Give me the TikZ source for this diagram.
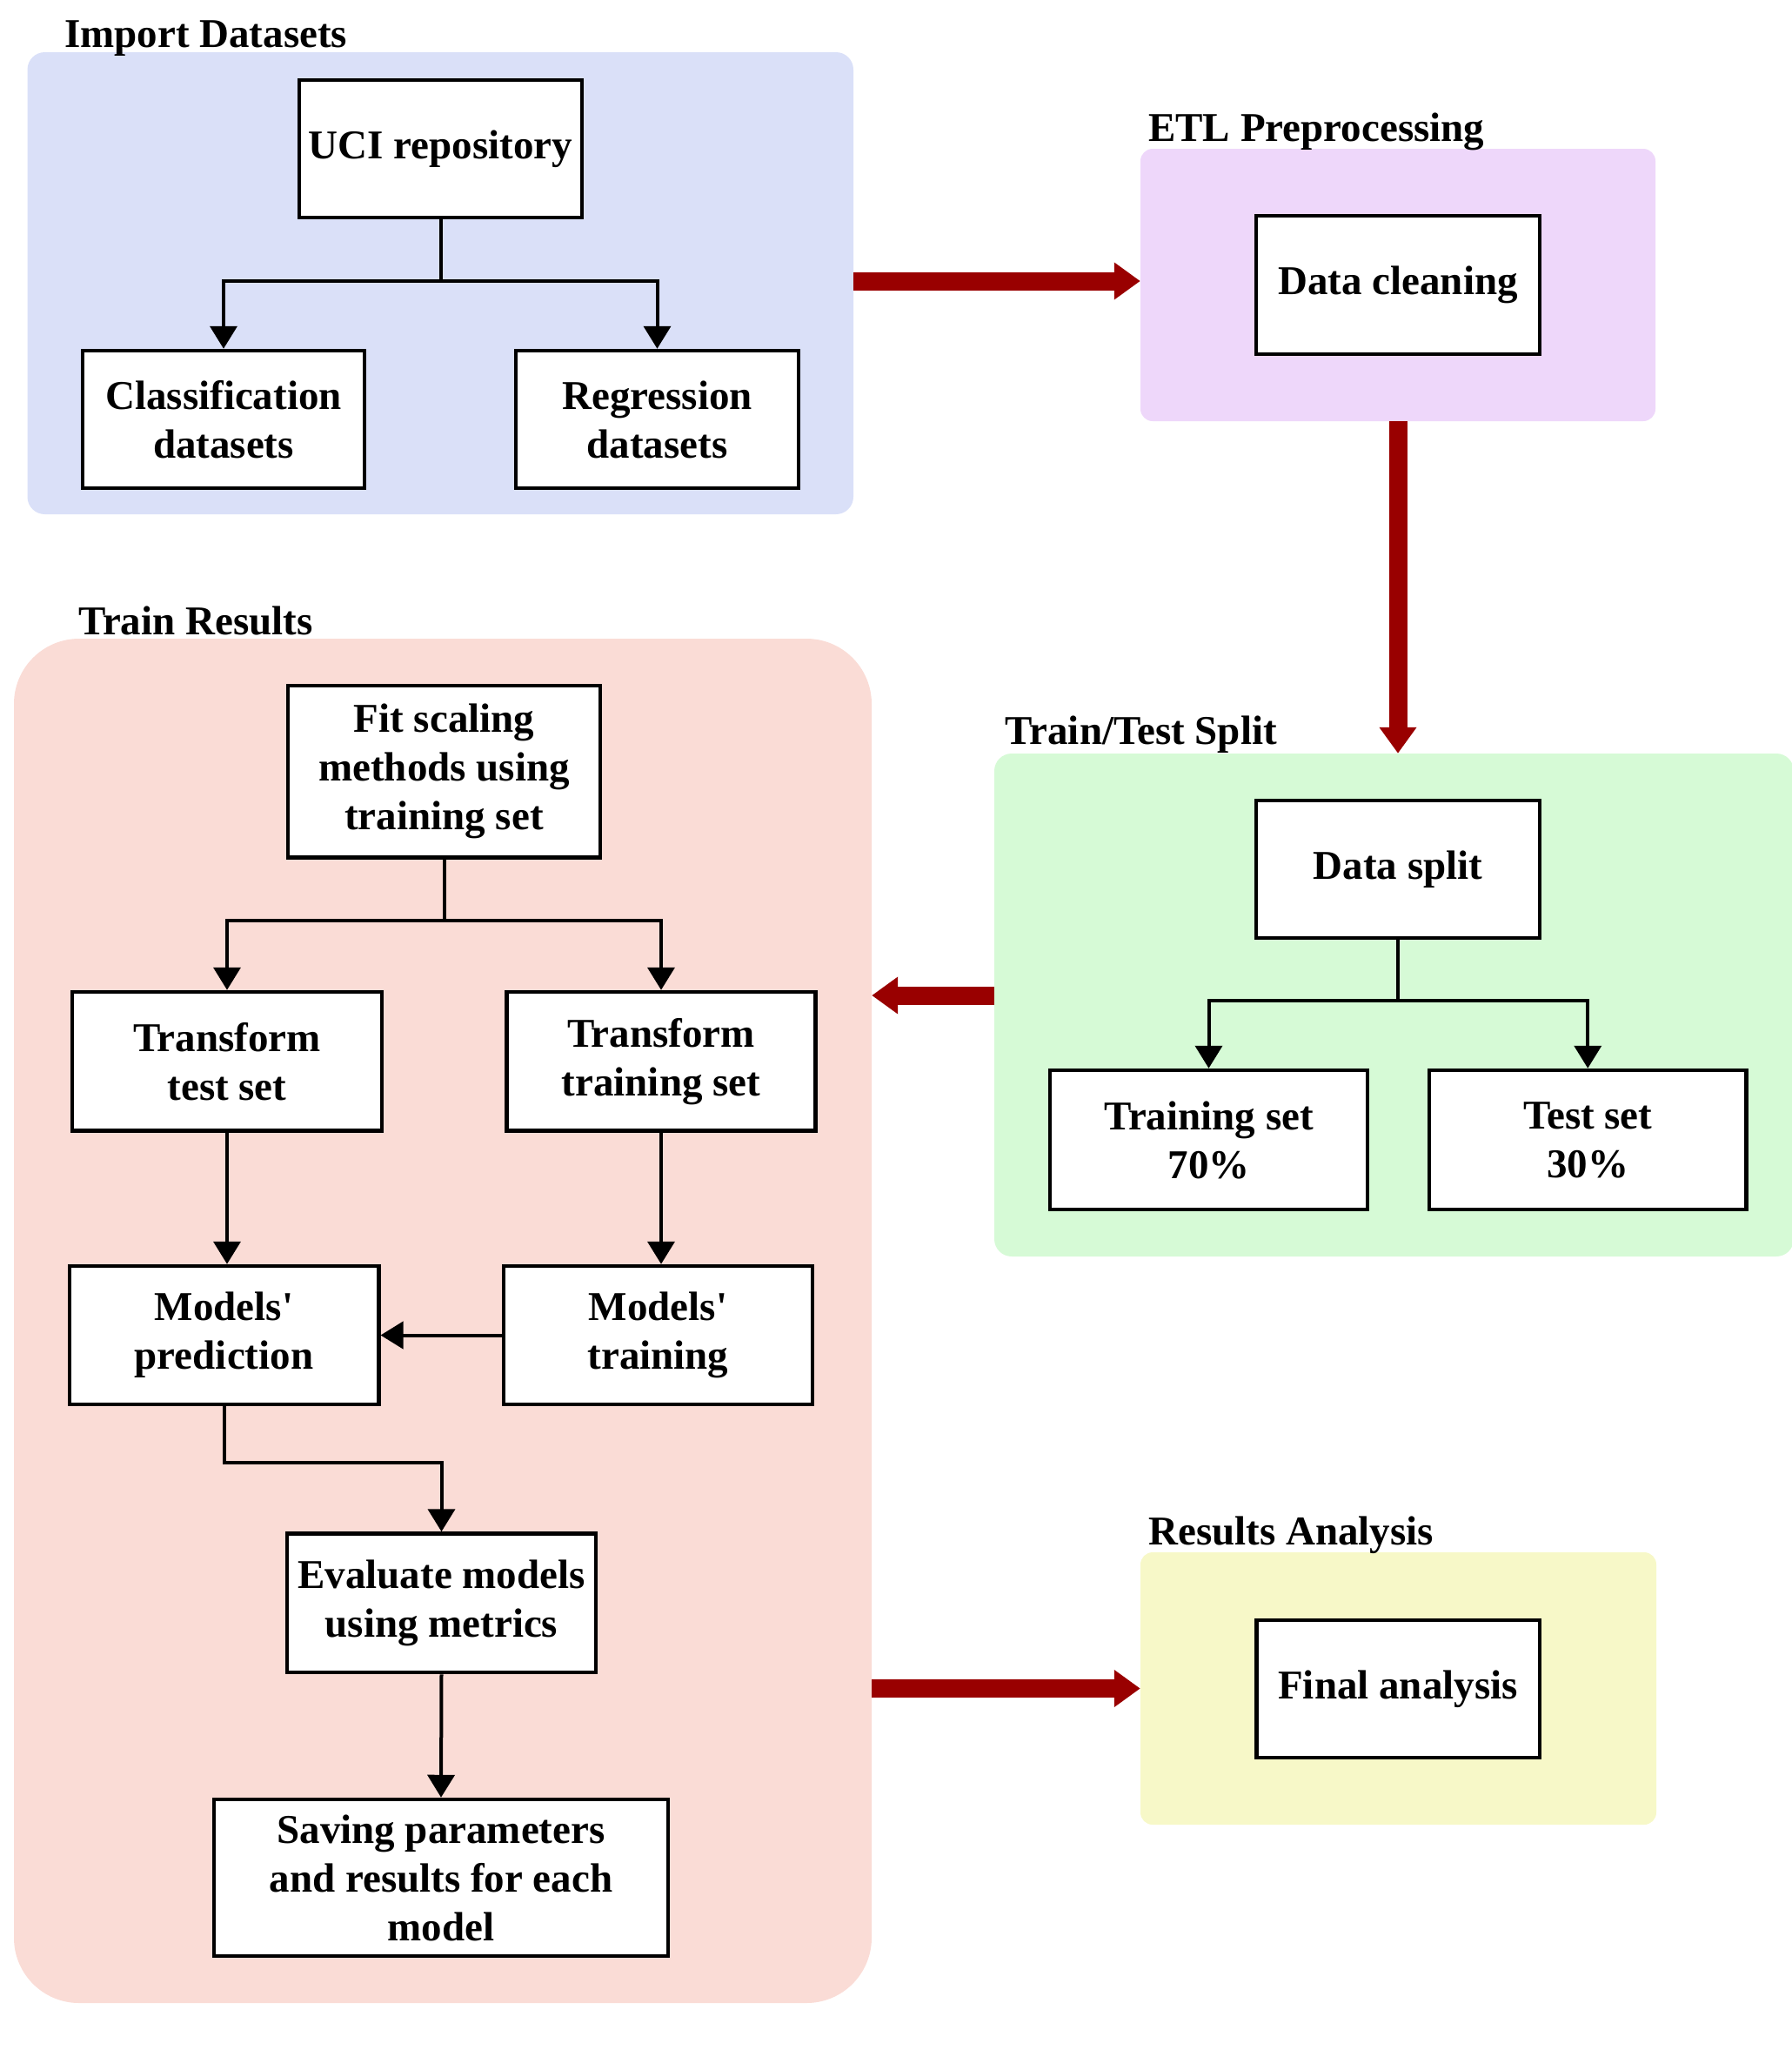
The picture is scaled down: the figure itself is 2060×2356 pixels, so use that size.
\documentclass[tikz,border=0pt]{standalone}
\usepackage{fontspec}
\setmainfont{Liberation Serif}[Ligatures=TeXOff]
\usetikzlibrary{arrows.meta}
\definecolor{cblue}{RGB}{218,224,248}
\definecolor{cpurple}{RGB}{238,215,250}
\definecolor{cgreen}{RGB}{214,250,214}
\definecolor{cpink}{RGB}{250,220,214}
\definecolor{cyellow}{RGB}{247,248,200}
\definecolor{darkred}{RGB}{153,0,0}
\begin{document}
\begin{tikzpicture}[x=1pt,y=-1pt,
  font=\fontsize{47}{56}\selectfont\bfseries,
  container/.style={fill=#1, draw=none, inner sep=0pt},
  box/.style={draw, line width=4.5pt, fill=white, align=center, inner sep=0pt},
  conn/.style={line width=4pt, -{Triangle[length=26pt,width=31pt]}},
  bigarrow/.style={draw=darkred, fill=darkred, line width=21pt, -{Triangle[length=30pt,width=41pt]}},
  grouplabel/.style={anchor=base west, inner sep=0pt}
]
\useasboundingbox (0,0) rectangle (2060,2356);

% containers
\node[container=cblue, rounded corners=20pt, minimum width=949.5pt, minimum height=531pt] (blue) at (506.25,325.5) {};
\node[container=cpurple, rounded corners=14pt, minimum width=592pt, minimum height=313pt] (purple) at (1607,327.5) {};
\node[container=cgreen, rounded corners=20pt, minimum width=919pt, minimum height=578pt] (green) at (1602.5,1155) {};
\node[container=cpink, rounded corners=75pt, minimum width=986pt, minimum height=1568pt] (pink) at (509,1518) {};
\node[container=cyellow, rounded corners=14pt, minimum width=593pt, minimum height=313pt] (yellow) at (1607.5,1940.5) {};

% group labels
\node[grouplabel] (lblimport) at (74,54) {Import Datasets};
\node[grouplabel] (lbletl) at (1320,162) {ETL Preprocessing};
\node[grouplabel] (lbltrain) at (90,729) {Train Results};
\node[grouplabel] (lblsplit) at (1155.5,855) {Train/Test Split};
\node[grouplabel] (lblres) at (1320,1775) {Results Analysis};

% boxes
\node[box, minimum width=325pt, minimum height=158pt] (uci) at (506.5,171) {UCI repository};
\node[box, minimum width=324pt, minimum height=158pt] (cls) at (257,482) {Classification\\datasets};
\node[box, minimum width=325pt, minimum height=158pt] (reg) at (755.5,482) {Regression\\datasets};

\node[box, minimum width=326pt, minimum height=159pt] (clean) at (1607,327.5) {Data cleaning};

\node[box, minimum width=326pt, minimum height=158pt] (split) at (1607,999) {Data split};
\node[box, minimum width=365pt, minimum height=160pt] (trainset) at (1389.5,1310) {Training set\\70\%};
\node[box, minimum width=364.5pt, minimum height=160pt] (testset) at (1825.25,1310) {Test set\\30\%};

\node[box, minimum width=359pt, minimum height=197.5pt] (fit) at (510.5,886.75) {Fit scaling\\methods using\\training set};
\node[box, minimum width=356pt, minimum height=159.5pt] (ttest) at (261,1219.75) {Transform\\test set};
\node[box, minimum width=355.4pt, minimum height=159.5pt] (ttrain) at (760,1219.75) {Transform\\training set};
\node[box, minimum width=355.5pt, minimum height=159pt] (pred) at (257.5,1534.5) {Models'\\prediction};
\node[box, minimum width=355.3pt, minimum height=159pt] (mtrain) at (756.5,1534.5) {Models'\\training};
\node[box, minimum width=355pt, minimum height=159.5pt] (eval) at (507.5,1842.25) {Evaluate models\\using metrics};
\node[box, minimum width=522pt, minimum height=180pt] (save) at (507,2158) {Saving parameters\\and results for each\\model};

\node[box, minimum width=325.5pt, minimum height=158pt] (final) at (1607,1941) {Final analysis};

% black connectors
\draw[conn] (uci.south) -- ++(0,70.5) -| (cls.north);
\draw[conn] (uci.south) -- ++(0,70.5) -| (reg.north);
\draw[conn] (split.south) -- ++(0,70) -| (trainset.north);
\draw[conn] (split.south) -- ++(0,70) -| (testset.north);
\draw[conn] (fit.south) -- ++(0,70) -| (ttest.north);
\draw[conn] (fit.south) -- ++(0,70) -| (ttrain.north);
\draw[conn] (ttest.south) -- (ttest.south |- pred.north);
\draw[conn] (ttrain.south) -- (ttrain.south |- mtrain.north);
\draw[conn] (mtrain.west) -- (pred.east);
\draw[conn] (pred.south) -- ++(0,65) -| (eval.north);
\draw[conn] (eval.south) -- (save.north);

% red flow arrows
\coordinate (lefty) at (1143,1144);
\draw[bigarrow] (blue.east |- 0,323) -- (purple.west |- 0,323);
\draw[bigarrow] (purple.south) -- (purple.south |- green.north);
\draw[bigarrow] (green.west |- lefty) -- (pink.east |- lefty);
\draw[bigarrow] (pink.east |- yellow.west) -- (yellow.west);
\end{tikzpicture}
\end{document}
